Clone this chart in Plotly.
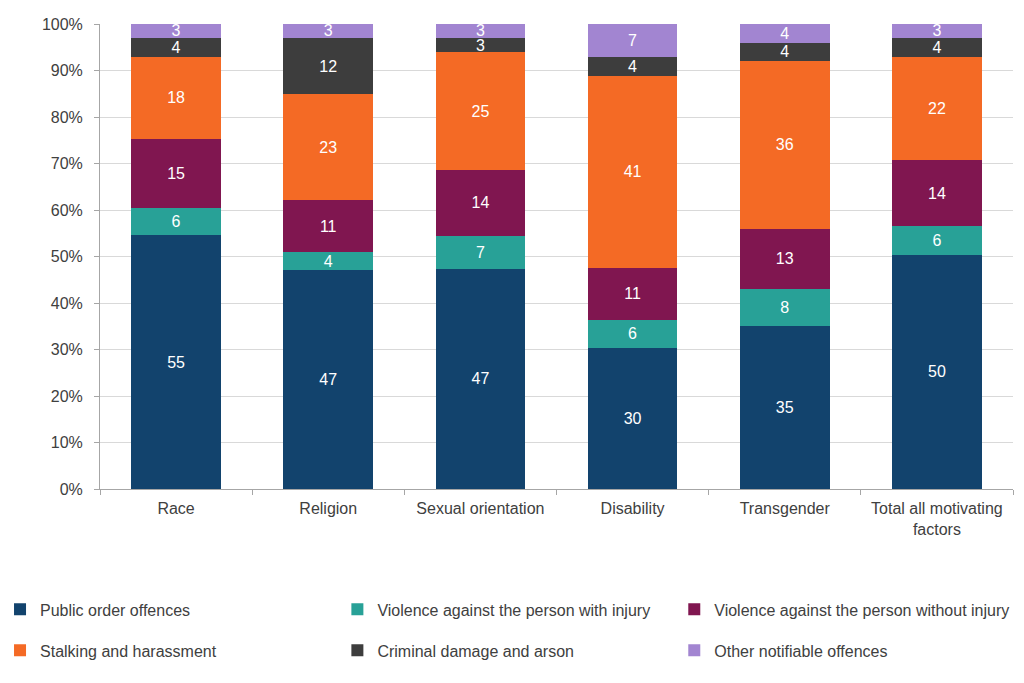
import plotly.graph_objects as go

categories = ["Race", "Religion", "Sexual orientation", "Disability", "Transgender",
              "Total all motivating<br>factors"]

series_names = [
    "Public order offences",
    "Violence against the person with injury",
    "Violence against the person without injury",
    "Stalking and harassment",
    "Criminal damage and arson",
    "Other notifiable offences",
]

public_order = [54.6, 47.0, 47.4, 30.4, 35.0, 50.4]
violence_injury = [5.9, 4.0, 7.1, 6.0, 8.0, 6.2]
violence_no_injury = [14.7, 11.1, 14.1, 11.1, 13.0, 14.1]
stalking = [17.8, 22.8, 25.3, 41.4, 36.0, 22.3]
criminal_damage = [4.0, 12.1, 3.1, 4.1, 4.0, 4.0]
other = [3.0, 3.0, 3.0, 7.0, 4.0, 3.0]

y_tick_values = list(range(0, 101, 10))
y_tick_labels = [f"{v}%" for v in y_tick_values]

colors = ["#12436D", "#28A197", "#801650", "#F46A25", "#3D3D3D", "#A285D1"]

series_values = [public_order, violence_injury, violence_no_injury, stalking,
                 criminal_damage, other]

FONT = "Liberation Sans, Arial, sans-serif"

legend_ids = ["legend", "legend2", "legend3", "legend4", "legend5", "legend6"]
legend_x = [-0.1095, 0.2600, 0.6290]
legend_y = [-0.2589, -0.3471]

fig = go.Figure()
for i, (name, vals, col) in enumerate(zip(series_names, series_values, colors)):
    fig.add_trace(go.Bar(
        x=categories, y=vals, name=name,
        marker=dict(color=col, line=dict(width=0)),
        text=[f"{v:.0f}" for v in vals],
        textposition="inside", insidetextanchor="middle",
        textangle=0, constraintext="none",
        textfont=dict(color="white", size=16, family=FONT),
        legend=legend_ids[i], showlegend=True,
        hoverinfo="skip",
    ))

legends = {}
for i, lid in enumerate(legend_ids):
    legends[lid] = dict(
        orientation="h", xanchor="left", yanchor="middle",
        x=legend_x[i % 3], y=legend_y[i // 3],
        font=dict(size=16, color="#404040", family=FONT),
        bgcolor="rgba(0,0,0,0)", visible=True,
    )

fig.update_layout(
    barmode="stack",
    bargap=0.41,
    width=1016, height=675,
    showlegend=True,
    margin=dict(l=92, r=11, t=16, b=194, autoexpand=False),
    plot_bgcolor="white", paper_bgcolor="white",
    font=dict(family=FONT, size=16, color="#404040"),
    **legends,
)

fig.update_yaxes(
    range=[0, 100], tickvals=y_tick_values, ticktext=y_tick_labels,
    showgrid=True, gridcolor="#d9d9d9", gridwidth=1,
    showline=True, linecolor="#a6a6a6", linewidth=1,
    ticks="outside", ticklen=5, tickcolor="#a6a6a6",
    tickfont=dict(size=16, color="#404040", family=FONT),
    zeroline=False, ticklabelstandoff=8,
)
fig.update_xaxes(
    showline=True, linecolor="#a6a6a6", linewidth=1,
    ticks="outside", ticklen=5, tickcolor="#a6a6a6", tickson="boundaries",
    tickfont=dict(size=16, color="#404040", family=FONT),
    ticklabelstandoff=5,
)

fig.write_html("out.html")
